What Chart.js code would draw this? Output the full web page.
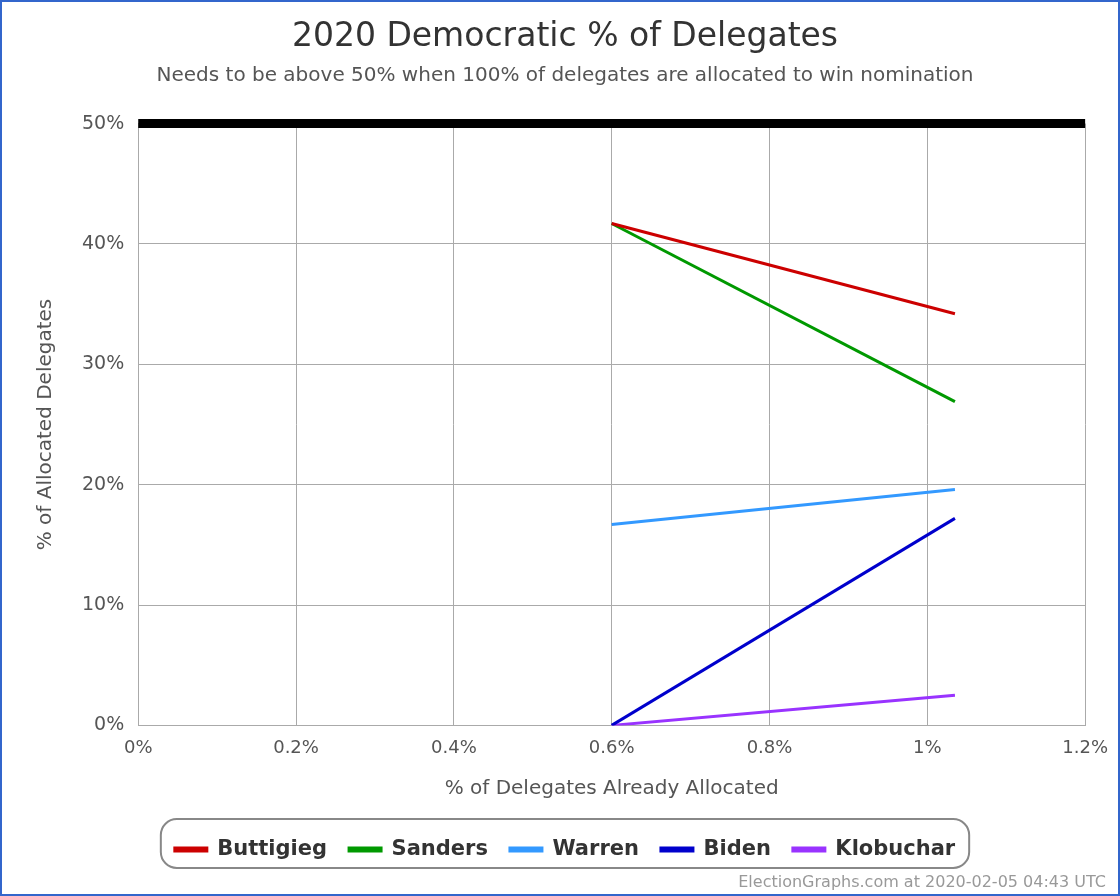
<!DOCTYPE html>
<html>
<head>
<meta charset="utf-8">
<script src="https://cdn.jsdelivr.net/npm/chart.js@4/dist/chart.umd.min.js"></script>
<style>
  body { margin: 0; background: #fff; }
  #wrap { width: 1120px; height: 896px; }
</style>
</head>
<body>
<div id="wrap"><canvas id="c" width="1120" height="896"></canvas></div>
<script>
// --- Data ---
const candidates = ['Buttigieg', 'Sanders', 'Warren', 'Biden', 'Klobuchar'];
const colors = ['#cc0000', '#009900', '#3399ff', '#0000cc', '#9933ff'];
const allocated = [0.6, 1.035];          // % of delegates already allocated
const buttigieg = [41.7, 34.2];
const sanders = [41.7, 26.9];
const warren = [16.7, 19.6];
const biden = [0, 17.2];
const klobuchar = [0, 2.5];
const series = [buttigieg, sanders, warren, biden, klobuchar];

const datasets = candidates.map((name, i) => ({
    label: name,
    data: allocated.map((x, j) => ({ x: x, y: series[i][j] })),
    borderColor: colors[i],
    backgroundColor: colors[i],
    borderWidth: 3,
    pointRadius: 0
}));
// win threshold line
datasets.push({
    label: 'threshold',
    data: [{ x: 0, y: 50 }, { x: 1.2, y: 50 }],
    borderColor: '#000',
    borderWidth: 9,
    pointRadius: 0,
    clip: false
});

const extras = {
    id: 'extras',
    afterDraw(chart) {
        const ctx = chart.ctx;
        const lg = chart.legend;
        const boxes = lg.legendHitBoxes;
        const x0 = Math.min(...boxes.map(b => b.left)) - 14;
        const x1 = Math.max(...boxes.map(b => b.left + b.width)) + 14;
        ctx.save();
        // legend box
        ctx.strokeStyle = '#888';
        ctx.lineWidth = 2;
        ctx.beginPath();
        ctx.roundRect(x0, lg.top + 2, x1 - x0, lg.height - 4, 16);
        ctx.stroke();
        // footer
        ctx.fillStyle = '#999';
        ctx.font = '16px "DejaVu Sans"';
        ctx.textAlign = 'right';
        ctx.textBaseline = 'bottom';
        ctx.fillText('ElectionGraphs.com at 2020-02-05 04:43 UTC', 1106, 891);
        // frame
        ctx.strokeStyle = '#3366cc';
        ctx.lineWidth = 2;
        ctx.strokeRect(1, 1, 1118, 894);
        ctx.restore();
    }
};

Chart.defaults.font.family = '"DejaVu Sans", sans-serif';
Chart.defaults.color = '#555';

new Chart(document.getElementById('c'), {
    type: 'line',
    data: { datasets: datasets },
    plugins: [extras],
    options: {
        responsive: false,
        animation: false,
        layout: { padding: { left: 30, right: 20, top: 8, bottom: 26 } },
        plugins: {
            title: {
                display: true,
                text: '2020 Democratic % of Delegates',
                font: { size: 33, weight: 'normal' },
                color: '#333',
                padding: { top: 10, bottom: 6 }
            },
            subtitle: {
                display: true,
                text: 'Needs to be above 50% when 100% of delegates are allocated to win nomination',
                font: { size: 20 },
                color: '#555',
                padding: { bottom: 36 }
            },
            legend: {
                position: 'bottom',
                labels: {
                    filter: item => item.text !== 'threshold',
                    boxWidth: 32,
                    boxHeight: 3,
                    padding: 22,
                    color: '#333',
                    font: { size: 21, weight: 'bold' }
                }
            },
            tooltip: { enabled: false }
        },
        scales: {
            x: {
                type: 'linear',
                min: 0,
                max: 1.2,
                ticks: {
                    stepSize: 0.2,
                    font: { size: 18 },
                    padding: 12,
                    callback: v => (Math.round(v * 10) / 10) + '%'
                },
                grid: { color: '#aaa', tickLength: 0 },
                border: { color: '#aaa' },
                title: {
                    display: true,
                    text: '% of Delegates Already Allocated',
                    font: { size: 20 },
                    padding: { top: 6, bottom: 16 }
                }
            },
            y: {
                min: 0,
                max: 50,
                ticks: {
                    stepSize: 10,
                    font: { size: 19 },
                    padding: 14,
                    callback: v => v + '%'
                },
                grid: { color: '#aaa', tickLength: 0 },
                border: { color: '#aaa' },
                title: {
                    display: true,
                    text: '% of Allocated Delegates',
                    font: { size: 20 },
                    padding: { bottom: 10 }
                }
            }
        }
    }
});
</script>
</body>
</html>
